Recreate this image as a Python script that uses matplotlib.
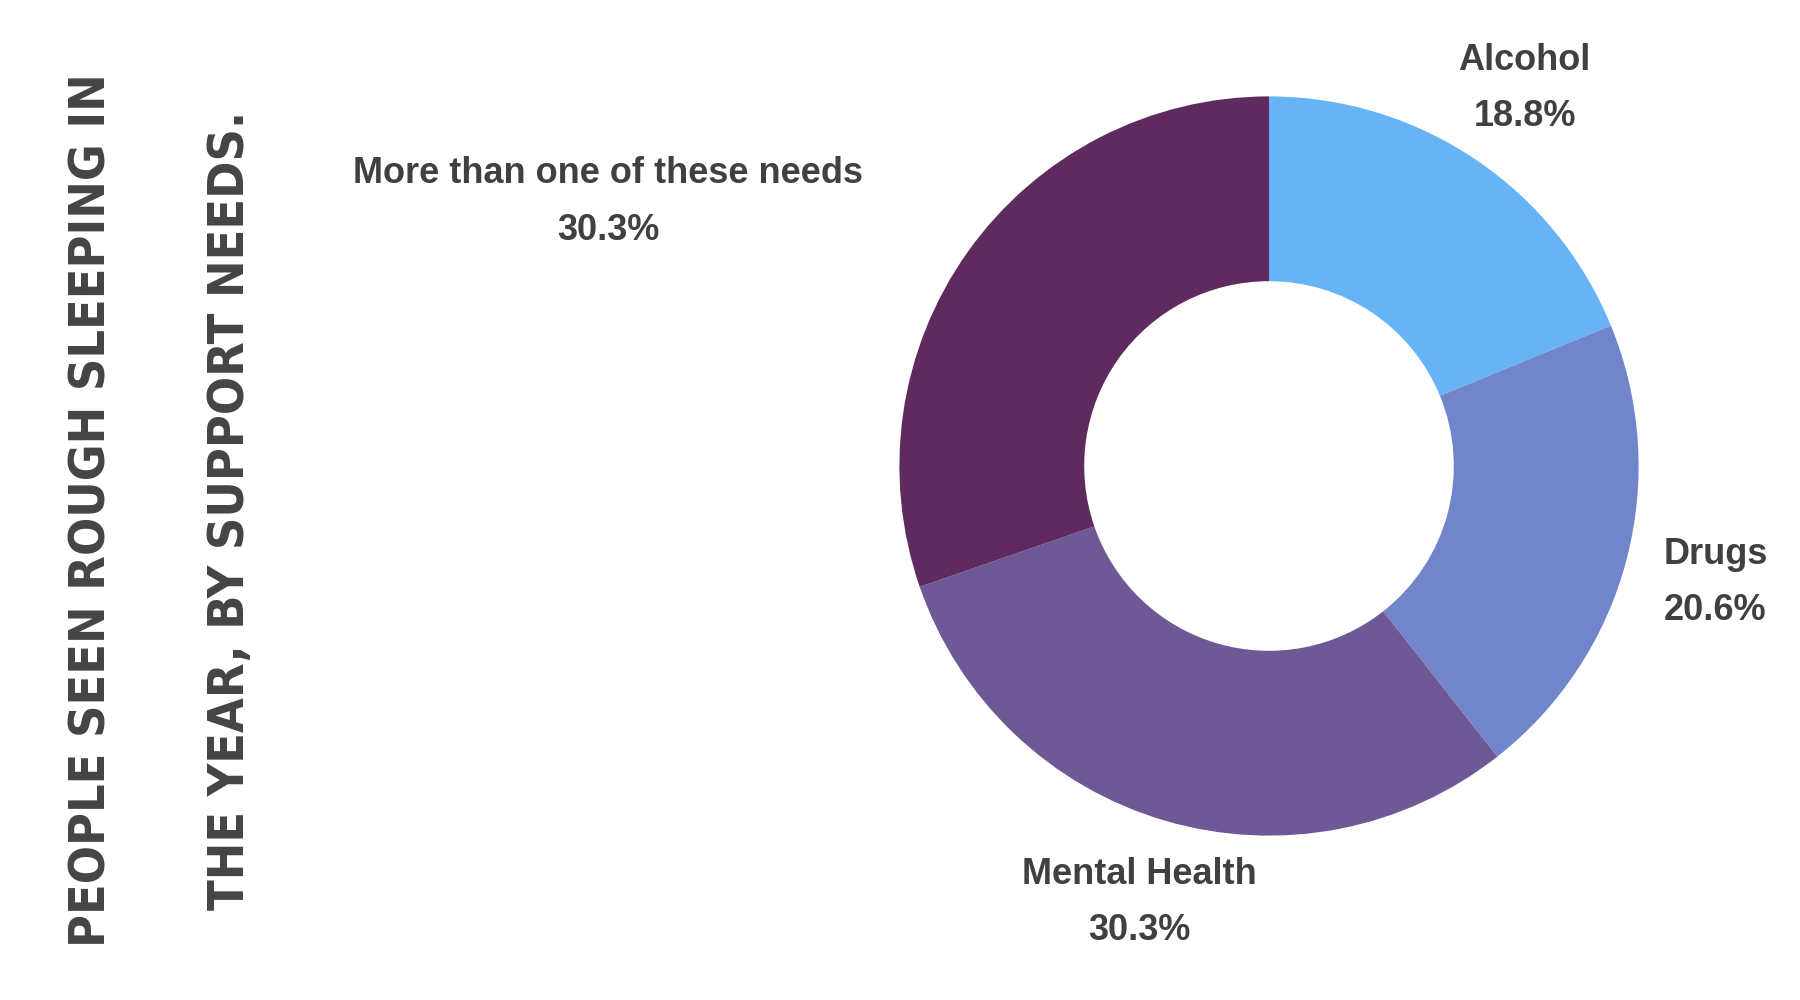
import matplotlib
matplotlib.use("Agg")
import matplotlib.pyplot as plt

categories = ["Alcohol", "Drugs", "Mental Health", "More than one of these needs"]
values = [18.8, 20.6, 30.3, 30.3]
colors = ["#66b3f5", "#7285cb", "#6e5896", "#5f2b5e"]
label_pos = [(0.847, 0.06), (0.953, 0.555), (0.633, 0.875), (0.338, 0.174)]

fig = plt.figure(figsize=(18, 10), dpi=100)
ax = fig.add_axes([0.705 - 0.42 * 10 / 18, 0.534 - 0.42, 0.84 * 10 / 18, 0.84])
ax.pie(values, colors=colors, startangle=90, counterclock=False,
       radius=0.88, wedgeprops=dict(width=0.44, edgecolor="none"))
ax.set_xlim(-1, 1); ax.set_ylim(-1, 1); ax.set_aspect("equal"); ax.axis("off")

for cat, v, (x, y) in zip(categories, values, label_pos):
    fig.text(x, 1 - y, cat, ha="center", va="center", fontsize=26,
             fontweight="bold", color="#404040", family="Liberation Sans")
    fig.text(x, 1 - y - 0.056, f"{v}%", ha="center", va="center", fontsize=26,
             fontweight="bold", color="#404040", family="Liberation Sans")

fig.text(0.051, 0.49, "PEOPLE SEEN ROUGH SLEEPING IN", rotation=90, ha="center",
         va="center", fontsize=36, fontweight="bold", color="#444444",
         family="DejaVu Sans", fontstretch="condensed")
fig.text(0.128, 0.49, "THE YEAR, BY SUPPORT NEEDS.", rotation=90, ha="center",
         va="center", fontsize=36, fontweight="bold", color="#444444",
         family="DejaVu Sans", fontstretch="condensed")

fig.savefig("out.png", dpi=100, facecolor="white")
